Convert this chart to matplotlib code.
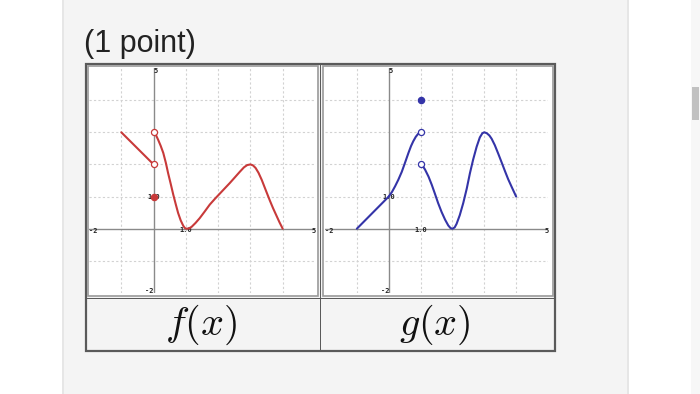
import matplotlib
matplotlib.use("Agg")
import matplotlib.pyplot as plt
from matplotlib.patches import Rectangle

plt.rcParams['mathtext.fontset'] = 'cm'

W, H = 700, 394

# ---------------- data ----------------
title_text = "(1 point)"
labels = [r"$f(x)$", r"$g(x)$"]

# f(x)
f_line_x = [-1, 0]
f_line_y = [3, 2]
f_curve_x = [0, 0.07, 0.14, 0.22, 0.30, 0.38, 0.45, 0.53, 0.61, 0.69, 0.76, 0.84,
             0.92, 0.97, 1.02, 1.10, 1.18, 1.30, 1.43, 1.58, 1.74, 1.90, 2.05,
             2.20, 2.36, 2.52, 2.67, 2.80, 2.90, 3.0, 3.08, 3.16, 3.25, 3.35,
             3.49, 3.60, 3.70, 3.80, 3.90, 4.0]
f_curve_y = [3, 2.92, 2.77, 2.58, 2.36, 2.05, 1.73, 1.40, 1.06, 0.75, 0.49, 0.26,
             0.09, 0.02, 0.0, 0.01, 0.06, 0.18, 0.33, 0.53, 0.75, 0.93, 1.09,
             1.25, 1.42, 1.60, 1.77, 1.91, 1.98, 2.0, 1.97, 1.89, 1.74, 1.52,
             1.16, 0.88, 0.64, 0.42, 0.20, 0.0]
f_open_x = [0, 0]
f_open_y = [3, 2]
f_closed_x = [0]
f_closed_y = [1]

# g(x)
g_line_x = [-1, 0]
g_line_y = [0, 1]
g_curve1_x = [0, 0.1, 0.2, 0.3, 0.41, 0.5, 0.62, 0.7, 0.77, 0.85, 0.93, 1.0]
g_curve1_y = [1, 1.14, 1.32, 1.52, 1.77, 2.02, 2.36, 2.57, 2.72, 2.86, 2.96, 3.0]
g_curve2_x = [1.0, 1.07, 1.14, 1.25, 1.35, 1.45, 1.55, 1.66, 1.77, 1.87, 1.94,
              2.0, 2.07, 2.13, 2.23, 2.34, 2.45, 2.55, 2.65, 2.76, 2.86, 2.94,
              3.0, 3.08, 3.16, 3.23, 3.33, 3.44, 3.55, 3.65, 3.75, 3.86, 4.0]
g_curve2_y = [2.0, 1.95, 1.84, 1.62, 1.37, 1.09, 0.80, 0.52, 0.28, 0.10, 0.02,
              0.0, 0.04, 0.15, 0.42, 0.80, 1.25, 1.73, 2.15, 2.55, 2.84, 2.97,
              3.0, 2.97, 2.90, 2.80, 2.60, 2.33, 2.05, 1.79, 1.54, 1.30, 1.0]
g_open_x = [1, 1]
g_open_y = [3, 2]
g_closed_x = [1]
g_closed_y = [4]

xlim = (-2, 5)
ylim = (-2, 5)
grid_vals = [-1, 1, 2, 3, 4]

# ---------------- figure ----------------
fig = plt.figure(figsize=(W / 100, H / 100), dpi=100)
fig.patch.set_facecolor('white')


def R(x0, y0, x1, y1, **kw):
    """rectangle from top-left pixel coordinates"""
    fig.patches.append(Rectangle((x0 / W, 1 - y1 / H), (x1 - x0) / W, (y1 - y0) / H,
                                 transform=fig.transFigure, figure=fig, **kw))


# page panel
R(62, 0, 629, 394, facecolor='#f4f4f4', edgecolor='none', zorder=-5)
R(62, 0, 64, 394, facecolor='#e6e6e6', edgecolor='none', zorder=-5)
R(627, 0, 629, 394, facecolor='#e6e6e6', edgecolor='none', zorder=-5)
# scrollbar
R(691, 0, 700, 394, facecolor='#f7f7f7', edgecolor='none', zorder=-5)
R(692, 87, 699, 120, facecolor='#c1c1c1', edgecolor='none', zorder=-4)

fig.text(84 / W, 1 - 52 / H, title_text, fontsize=22, family='Liberation Sans',
         color='#222222', va='baseline', ha='left')

# table
R(85.5, 63.5, 555, 350.5, facecolor='none', edgecolor='#5a5a5a', linewidth=1.6, zorder=-3)
R(319.5, 63.5, 321, 350.5, facecolor='#5a5a5a', edgecolor='none', zorder=-3)
R(85.5, 297.5, 555, 299, facecolor='#5a5a5a', edgecolor='none', zorder=-3)
# plot frames
R(87.5, 66, 317.5, 296, facecolor='white', edgecolor='#9a9a9a', linewidth=1.2, zorder=-2)
R(322.5, 66, 552.5, 296, facecolor='white', edgecolor='#9a9a9a', linewidth=1.2, zorder=-2)

fig.text(201 / W, 1 - 325 / H, labels[0], fontsize=29, ha='center', va='center',
         color='#111111')
fig.text(435 / W, 1 - 325 / H, labels[1], fontsize=29, ha='center', va='center',
         color='#111111')


def make_ax(px0, px1):
    ax = fig.add_axes([px0 / W, 1 - 293 / H, (px1 - px0) / W, (293 - 68) / H])
    ax.set_zorder(10)
    ax.set_xlim(*xlim)
    ax.set_ylim(*ylim)
    ax.set_facecolor('white')
    for s in ax.spines.values():
        s.set_visible(False)
    ax.set_xticks([])
    ax.set_yticks([])
    for v in grid_vals:
        ax.axvline(v, color='#d2d2d2', lw=0.8, ls=(0, (2, 2)), zorder=1)
        ax.axhline(v, color='#d2d2d2', lw=0.8, ls=(0, (2, 2)), zorder=1)
    ax.axvline(0, color='#8a8a8a', lw=1.0, zorder=2)
    ax.axhline(0, color='#8a8a8a', lw=1.0, zorder=2)
    tk = dict(fontsize=5, family='DejaVu Sans Mono', color='#222222', zorder=3,
              fontweight='bold', ha='center', va='center')
    ax.text(0.05, 4.9, '5', **tk)
    ax.text(-0.12, -1.93, '-2', **tk)
    ax.text(-1.88, -0.08, '-2', **tk)
    ax.text(4.95, -0.08, '5', **tk)
    ax.text(1.0, -0.05, '1.0', **tk)
    ax.text(0.0, 1.0, '1.0', **tk)
    return ax


axf = make_ax(89, 315)
red = '#c83a3a'
axf.plot(f_line_x, f_line_y, color=red, lw=1.5, zorder=4, solid_capstyle='round',
         solid_joinstyle='round')
axf.plot(f_curve_x, f_curve_y, color=red, lw=1.5, zorder=4, solid_capstyle='round',
         solid_joinstyle='round')
axf.plot(f_open_x, f_open_y, 'o', ms=4.4, mfc='white', mec=red, mew=0.9, zorder=5)
axf.plot(f_closed_x, f_closed_y, 'o', ms=4.4, mfc=red, mec=red, zorder=5)

axg = make_ax(325, 548)
blue = '#3434a8'
axg.plot(g_line_x, g_line_y, color=blue, lw=1.5, zorder=4, solid_capstyle='round',
         solid_joinstyle='round')
axg.plot(g_curve1_x, g_curve1_y, color=blue, lw=1.5, zorder=4, solid_capstyle='round',
         solid_joinstyle='round')
axg.plot(g_curve2_x, g_curve2_y, color=blue, lw=1.5, zorder=4, solid_capstyle='round',
         solid_joinstyle='round')
axg.plot(g_open_x, g_open_y, 'o', ms=4.4, mfc='white', mec=blue, mew=0.9, zorder=5)
axg.plot(g_closed_x, g_closed_y, 'o', ms=4.4, mfc=blue, mec=blue, zorder=5)

fig.savefig('out.png', dpi=100)
